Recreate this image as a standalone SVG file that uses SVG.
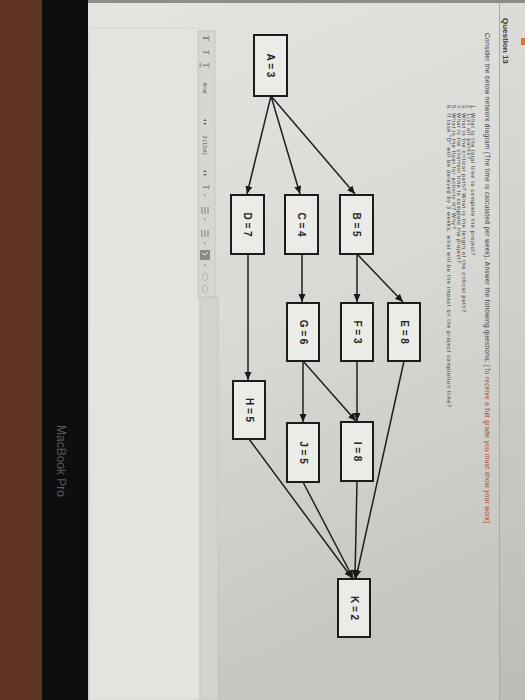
<svg xmlns="http://www.w3.org/2000/svg" width="525" height="700" viewBox="0 0 525 700">
<defs>
  <linearGradient id="desk" x1="0" y1="0" x2="1" y2="0">
    <stop offset="0" stop-color="#5e3520"/>
    <stop offset="1" stop-color="#3f2414"/>
  </linearGradient>
  <linearGradient id="screen" x1="0" y1="0" x2="0.3" y2="1">
    <stop offset="0" stop-color="#e4e4e1"/>
    <stop offset="0.5" stop-color="#dadad6"/>
    <stop offset="1" stop-color="#c7c7c2"/>
  </linearGradient>
  <linearGradient id="strip" x1="0" y1="0" x2="0" y2="1">
    <stop offset="0" stop-color="#dcdcd9"/>
    <stop offset="1" stop-color="#bdbdb8"/>
  </linearGradient>
  <marker id="ah" markerUnits="userSpaceOnUse" markerWidth="9" markerHeight="8" refX="8" refY="3.5" orient="auto">
    <path d="M0,0 L8,3.5 L0,7 Z" fill="#1a1a1a"/>
  </marker>
  <style>
    .box { fill: #ebebe8; stroke: #1c1c1c; stroke-width: 2; }
    .lbl { font-family: "Liberation Sans", Arial, sans-serif; font-size: 10px; font-weight: bold; fill: #222; text-anchor: middle; dominant-baseline: central; }
    .edge { stroke: #1f1f1f; stroke-width: 1.5; fill: none; marker-end: url(#ah); }
    .q { font-family: "Liberation Sans", Arial, sans-serif; fill: #3a3a3a; }
    .li { font-family: "Liberation Sans", Arial, sans-serif; fill: #3a3a3a; font-size: 5.4px; }
    .tb { font-family: "Liberation Sans", Arial, sans-serif; font-size: 5.5px; fill: #555; text-anchor: middle; dominant-baseline: central; }
    .tbs { font-family: "Liberation Serif", "Times New Roman", serif; font-size: 7.5px; fill: #555; text-anchor: middle; dominant-baseline: central; }
    .ic { stroke: #666; stroke-width: 0.8; fill: none; }
  </style>
</defs>

<!-- photo background -->
<rect x="0" y="0" width="525" height="700" fill="url(#desk)"/>
<rect x="42" y="0" width="48" height="700" fill="#0e0e0e"/>
<rect x="88" y="0" width="437" height="700" fill="url(#screen)"/>
<rect x="88" y="0" width="437" height="3" fill="#8c8c8a"/>
<rect x="89" y="28" width="111" height="672" fill="#e3e3e0" stroke="#cfcfcb" stroke-width="0.8"/>
<rect x="200" y="297" width="18" height="403" fill="#d3d3cf" stroke="#c2c2be" stroke-width="0.8"/>
<rect x="500" y="3" width="25" height="697" fill="url(#strip)"/>
<line x1="499.5" y1="3" x2="499.5" y2="700" stroke="#a9a9a5" stroke-width="1"/>
<rect x="521" y="38" width="4" height="7" fill="#e0772f"/>
<text x="0" y="0" transform="translate(57,425) rotate(90)" font-family="Liberation Sans, Arial, sans-serif" font-size="12" fill="#5a5a5a">MacBook Pro</text>

<!-- editor toolbar -->
<g id="toolbar">
  <rect x="198" y="31" width="17" height="266" fill="#d6d6d2" stroke="#c3c3bf" stroke-width="0.8"/>
  <text class="tbs" font-weight="bold" transform="translate(205,38) rotate(90)">T</text>
  <text class="tbs" font-style="italic" transform="translate(205,52) rotate(90)">T</text>
  <text class="tbs" text-decoration="underline" transform="translate(205,65) rotate(90)">T</text>
  <text class="tb" transform="translate(205,88) rotate(90)">Arial</text>
  <path d="M203,121 l2,-2 l2,2 z M203,123 l2,2 l2,-2 z" fill="#666"/>
  <text class="tb" transform="translate(205,145) rotate(90)">3 (12pt)</text>
  <path d="M203,172 l2,-2 l2,2 z M203,174 l2,2 l2,-2 z" fill="#666"/>
  <text class="tbs" transform="translate(205,187) rotate(90)">T</text>
  <circle cx="205" cy="195" r="0.7" fill="#666"/>
  <path class="ic" d="M202,207 v7 M205,207 v7 M208,207 v7"/>
  <circle cx="205" cy="219" r="0.7" fill="#666"/>
  <path class="ic" d="M202,230 v7 M205,230 v7 M208,230 v7"/>
  <circle cx="205" cy="243" r="0.7" fill="#666"/>
  <rect x="200" y="250" width="10" height="10" fill="#8a8a88"/>
  <path d="M202,253 l3,2 l3,-3" stroke="#eee" stroke-width="1" fill="none"/>
  <circle cx="205" cy="265" r="0.7" fill="#666"/>
  <ellipse cx="205" cy="277" rx="2.5" ry="4" stroke="#aaa" stroke-width="0.8" fill="none"/>
  <ellipse cx="205" cy="289" rx="2.5" ry="4" stroke="#aaa" stroke-width="0.8" fill="none"/>
</g>

<!-- question text -->
<g id="question">
  <text class="q" font-size="8" font-weight="bold" fill="#2a2a2a" transform="translate(503,18) rotate(90)">Question 13</text>
  <text class="q" font-size="6.5" textLength="490" lengthAdjust="spacing" transform="translate(485,33) rotate(90)">Consider the below network diagram (The time is calculated per week). Answer the following questions: <tspan fill="#b03a2a">[To receive a full grade you must show your work]</tspan></text>
  <text class="li" textLength="150" lengthAdjust="spacing" transform="translate(471,105) rotate(90)">1. What is the total time to complete the project?</text>
  <text class="li" textLength="54" lengthAdjust="spacing" transform="translate(466.5,105) rotate(90)">2. List all paths?</text>
  <text class="li" textLength="207" lengthAdjust="spacing" transform="translate(462,105) rotate(90)">3. What is the critical path? What is the length of the critical path?</text>
  <text class="li" textLength="158" lengthAdjust="spacing" transform="translate(457,105) rotate(90)">4. What is the shortest time to complete the project?</text>
  <text class="li" textLength="124" lengthAdjust="spacing" transform="translate(452,105) rotate(90)">5. What is the float for activity H? Why?</text>
  <text class="li" textLength="302" lengthAdjust="spacing" transform="translate(447,105) rotate(90)">6. If task "D" will be delayed by 3 weeks, what will be the impact on the project completion time?</text>
</g>

<!-- connectors -->
<g id="connectors">
  <path class="edge" d="M271,96 L247,194"/>
  <path class="edge" d="M271,96 L300,194"/>
  <path class="edge" d="M271,96 L355,194"/>
  <path class="edge" d="M357,254 L403,302"/>
  <path class="edge" d="M357,254 L357,302"/>
  <path class="edge" d="M302,254 L302,302"/>
  <path class="edge" d="M248,254 L248,380"/>
  <path class="edge" d="M303,361 L356,421"/>
  <path class="edge" d="M303,361 L303,422"/>
  <path class="edge" d="M357,361 L357,421"/>
  <path class="edge" d="M404,361 L356,578"/>
  <path class="edge" d="M249,439 L352,578"/>
  <path class="edge" d="M303,482 L353,578"/>
  <path class="edge" d="M357,481 L355,578"/>
</g>

<!-- nodes -->
<g id="node-A"><rect class="box" x="254" y="35" width="33" height="61"/><text class="lbl" transform="translate(270.5,65.5) rotate(90)">A = 3</text></g>
<g id="node-D"><rect class="box" x="231" y="195" width="33" height="59"/><text class="lbl" transform="translate(247.5,224.5) rotate(90)">D = 7</text></g>
<g id="node-C"><rect class="box" x="285" y="195" width="33" height="59"/><text class="lbl" transform="translate(301.5,224.5) rotate(90)">C = 4</text></g>
<g id="node-B"><rect class="box" x="340" y="195" width="33" height="59"/><text class="lbl" transform="translate(356.5,224.5) rotate(90)">B = 5</text></g>
<g id="node-G"><rect class="box" x="287" y="303" width="32" height="58"/><text class="lbl" transform="translate(303,332) rotate(90)">G = 6</text></g>
<g id="node-F"><rect class="box" x="341" y="303" width="32" height="58"/><text class="lbl" transform="translate(357,332) rotate(90)">F = 3</text></g>
<g id="node-E"><rect class="box" x="388" y="303" width="32" height="58"/><text class="lbl" transform="translate(404,332) rotate(90)">E = 8</text></g>
<g id="node-H"><rect class="box" x="233" y="381" width="32" height="58"/><text class="lbl" transform="translate(249,410) rotate(90)">H = 5</text></g>
<g id="node-J"><rect class="box" x="287" y="423" width="32" height="59"/><text class="lbl" transform="translate(303,452.5) rotate(90)">J = 5</text></g>
<g id="node-I"><rect class="box" x="341" y="422" width="32" height="59"/><text class="lbl" transform="translate(357,451.5) rotate(90)">I = 8</text></g>
<g id="node-K"><rect class="box" x="338" y="579" width="32" height="58"/><text class="lbl" transform="translate(354,608) rotate(90)">K = 2</text></g>
</svg>
